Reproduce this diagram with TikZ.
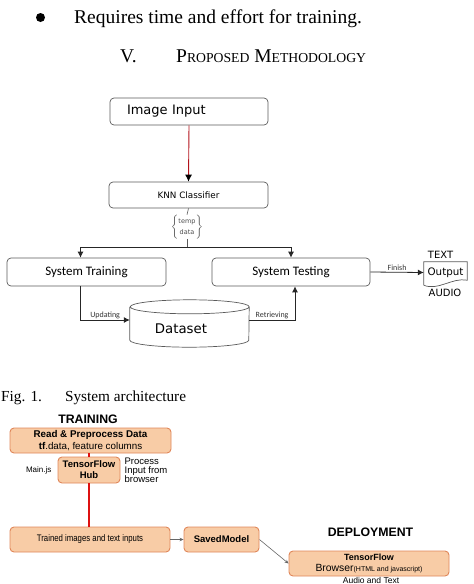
\documentclass[tikz,border=0pt]{standalone}
\usepackage{fontspec}
\usepackage{tikz}
\usetikzlibrary{arrows.meta,positioning}
\newfontfamily\timesfont{Liberation Serif}
\newfontfamily\dejavu{DejaVu Sans}
\newfontfamily\carlito{Carlito}
\newfontfamily\arial{Liberation Sans}
\newcommand{\fsz}[1]{\fontsize{#1}{#1}\selectfont}
\definecolor{boxline}{HTML}{5A5A5A}
\definecolor{linkred}{HTML}{B3131B}
\definecolor{tffill}{HTML}{F8CCA6}
\definecolor{tfedge}{HTML}{E0875A}
\definecolor{tfred}{HTML}{DD1111}

\begin{document}
\begin{tikzpicture}[x=1pt, y=-1pt,
  flowbox/.style={draw=boxline, line width=0.7pt, rounded corners=4pt, inner sep=0pt},
  tfbox/.style={draw=tfedge, fill=tffill, line width=0.9pt, rounded corners=4pt, inner sep=0pt, align=center},
  flowarrow/.style={draw=black!85, line width=0.8pt, -{Latex[length=6pt,width=6pt]}},
  tfarrow/.style={draw=black!60, line width=0.6pt, -{Stealth[length=4pt,width=3.5pt]}},
  tinylbl/.style={font=\carlito\fsz{8}, inner sep=1pt, text=black!80}]
  \useasboundingbox (0,0) rectangle (474,584);
  \fill (40.5,17.5) circle[radius=4.5pt];
  \node[anchor=base west, inner sep=0pt] (reqline) at (74,23) {\timesfont\fsz{19.5}Requires time and effort for training.};
  \node[anchor=base west, inner sep=0pt] (secnum) at (120,62) {\timesfont\fsz{19.5}V.};
  \node[anchor=base west, inner sep=0pt] (sectitle) at (176,62) {\timesfont\fsz{19.5}P{\fsz{13.7}ROPOSED} M{\fsz{13.7}ETHODOLOGY}};

  \node[flowbox, minimum width=158pt, minimum height=27pt, text width=124pt, inner xsep=17pt, align=left, font=\dejavu\fsz{13}] (imginput) at (189,111.5) {Image Input};
  \node[flowbox, minimum width=159pt, minimum height=26pt, font=\dejavu\fsz{8.8}] (knn) at (188.5,195) {KNN Classifier};
  \node[inner sep=0pt, text=black!70, font=\dejavu\fontsize{6.5}{11}\selectfont] (temp) at (187,227) {$\left\{\begin{tabular}{@{}c@{}}temp\\data\end{tabular}\right\}$};
  \coordinate (split) at (187,247);
  \node[flowbox, minimum width=159pt, minimum height=28pt, font=\carlito\fsz{13}] (train) at (86.5,272) {System Training};
  \node[flowbox, minimum width=158pt, minimum height=28pt, font=\carlito\fsz{13}] (test) at (291,272) {System Testing};
  \node[minimum width=119pt, minimum height=47pt, inner sep=0pt, text height=20pt, text depth=0pt, font=\dejavu\fsz{13.3}] (dataset) at (189.5,323.5) {\hspace*{-17pt}Dataset};
  \draw[boxline, line width=0.7pt] ([yshift=-7pt]dataset.north west) -- ([yshift=7pt]dataset.south west)
    arc[start angle=180, end angle=360, x radius=59.5pt, y radius=7pt] -- ([yshift=-7pt]dataset.north east)
    arc[start angle=0, end angle=360, x radius=59.5pt, y radius=7pt];
  \node[minimum width=43pt, minimum height=21pt, inner sep=0pt, font=\dejavu\fsz{10.3}] (output) at (445.5,272.5) {Output};
  \draw[boxline, line width=0.7pt] ([yshift=-2pt]output.south west) -- (output.north west) -- (output.north east) -- ([yshift=3pt]output.south east)
    .. controls ([xshift=-15pt,yshift=6pt]output.south east) and ([xshift=14pt,yshift=-8pt]output.south west) .. ([yshift=-2pt]output.south west);
  \node[inner sep=0pt, font=\dejavu\fsz{10}] (textlbl) at (440.5,255) {TEXT};
  \node[inner sep=0pt, font=\dejavu\fsz{10}] (audiolbl) at (445,292.5) {AUDIO};

  \draw[linkred, line width=0.9pt, -{Latex[length=7pt,width=7pt,color=black]}] (imginput.south) -- (knn.north);
  \draw[boxline, line width=0.6pt] (knn.south) -- (temp.north);
  \draw[boxline, line width=0.6pt] (temp.south) -- (split);
  \draw[flowarrow] (split) -| ([xshift=-6pt]train.north);
  \draw[flowarrow] (split) -| (test.north);
  \draw[flowarrow] ([xshift=-6pt]train.south) |- node[tinylbl, above, pos=0.75] {Updating} ([yshift=3.5pt]dataset.west);
  \draw[flowarrow] ([yshift=3.5pt]dataset.east) -| node[tinylbl, above, pos=0.25] {Retrieving} ([xshift=4pt]test.south);
  \draw[flowarrow] (test.east) -- node[tinylbl, above] {Finish} (output.west);

  \node[anchor=base west, inner sep=0pt] (figcap) at (1,401.5) {\timesfont\fsz{15.3}Fig. 1.\hspace{23pt}System architecture};

  \node[font=\arial\bfseries\fsz{12.3}, inner sep=0pt] (traininglbl) at (88,419.5) {TRAINING};
  \node[tfbox, minimum width=161pt, minimum height=25pt, font=\arial\fontsize{9.8}{11.5}\selectfont] (readdata) at (90.5,440.5) {\textbf{Read \& Preprocess Data}\\\textbf{tf}.data, feature columns};
  \node[tfbox, minimum width=62pt, minimum height=26pt, font=\arial\bfseries\fontsize{9.5}{11}\selectfont] (tfhub) at (89,470) {TensorFlow\\Hub};
  \node[left=6pt of tfhub, inner sep=0pt, font=\arial\fsz{8}] (mainjs) {Main.js};
  \node[right=4pt of tfhub, inner sep=0pt, align=left, font=\arial\fontsize{9.5}{9}\selectfont] (processlbl) {Process\\Input from\\browser};
  \node[tfbox, minimum width=160pt, minimum height=25pt, font=\arial\fsz{9.5}] (trained) at (90,539.5) {\scalebox{0.82}[1]{Trained images and text inputs}};
  \node[tfbox, minimum width=75pt, minimum height=25pt, font=\arial\bfseries\fsz{9.5}] (savedmodel) at (221.5,539.5) {SavedModel};
  \node[font=\arial\bfseries\fsz{12.3}, inner sep=0pt] (deploylbl) at (370.5,532) {DEPLOYMENT};
  \node[tfbox, minimum width=160pt, minimum height=25pt, font=\arial\fontsize{9}{11}\selectfont] (tfbrowser) at (369,563.5) {\textbf{TensorFlow}\\{\fsz{10.4}Browser}{\fsz{7}(HTML and javascript)}};
  \node[anchor=north, inner sep=0pt, font=\arial\fsz{8.5}] (audiotext) at (371,577) {Audio and Text};

  \draw[tfred, line width=1.2pt] (tfhub.north |- readdata.south) -- (tfhub.north);
  \draw[tfred, line width=1.2pt] (tfhub.south) -- (tfhub.south |- trained.north);
  \draw[tfarrow] (trained.east) -- (savedmodel.west);
  \draw[tfarrow] (savedmodel.east) -- (tfbrowser.west);
\end{tikzpicture}
\end{document}
